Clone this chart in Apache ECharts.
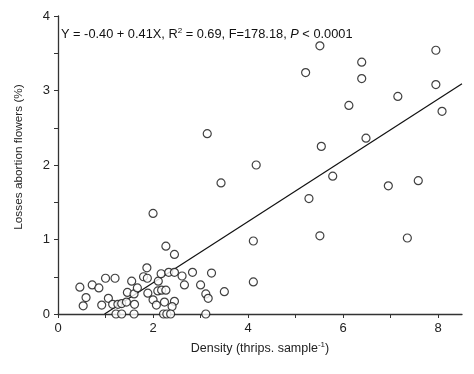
<!DOCTYPE html>
<html>
<head>
<meta charset="utf-8">
<script src="https://cdn.jsdelivr.net/npm/echarts@6/dist/echarts.min.js"></script>
<style>html,body{margin:0;padding:0;background:#fff}#c{width:474px;height:374px}</style>
</head>
<body>
<div id="c"></div>
<script>
const xTickLabels = [0, 2, 4, 6, 8];
const yTickLabels = [0, 1, 2, 3, 4];
const densityX = [
  0.46,0.59,0.53,0.72,0.86,1.00,1.20,0.92,1.06,1.15,1.26,1.34,1.22,1.34,1.44,1.46,1.55,1.60,1.61,1.60,
  1.67,1.80,1.88,1.87,1.89,2.00,2.00,2.07,2.11,2.10,2.17,2.18,2.27,2.27,2.45,2.33,2.45,2.24,2.45,2.40,
  2.22,2.29,2.37,2.61,2.66,2.83,3.00,3.11,3.16,3.11,3.23,3.50,
  3.14,3.43,4.11,4.11,4.17,5.21,5.51,5.54,5.78,5.28,5.51,6.12,6.39,6.39,6.48,6.95,7.15,7.35,7.58,7.95,7.95,8.08
];
const lossesY = [
  0.36,0.22,0.11,0.39,0.35,0.48,0.48,0.12,0.21,0.13,0.13,0.14,0.00,0.00,0.16,0.29,0.44,0.27,0.13,0.00,
  0.35,0.50,0.48,0.62,0.28,1.35,0.19,0.12,0.44,0.31,0.54,0.32,0.32,0.91,0.80,0.56,0.56,0.16,0.17,0.10,
  0.00,0.00,0.00,0.51,0.39,0.56,0.39,0.27,0.21,0.00,0.55,0.30,
  2.42,1.76,0.98,0.43,2.00,3.24,3.60,2.25,1.85,1.55,1.05,2.80,3.38,3.16,2.36,1.72,2.92,1.02,1.79,3.54,3.08,2.72
];
const fitLineX = [0.98, 8.5];
const fitLineY = [0.0, 3.09];
const yTitle = 'Losses abortion flowers (%)';

const pts = densityX.map((x, i) => [x, lossesY[i]]);
const fit = fitLineX.map((x, i) => [x, fitLineY[i]]);

const chart = echarts.init(document.getElementById('c'));
const axisCol = '#333';
const font = 'Liberation Sans, Arial, sans-serif';
chart.setOption({
  animation: false,
  backgroundColor: '#fff',
  grid: { left: 58, right: 12, top: 16, bottom: 60 },
  xAxis: {
    type: 'value', min: 0, max: 8.5, interval: 2,
    name: 'Density (thrips. sample{sup|-1})',
    nameLocation: 'middle', nameGap: 27,
    nameTextStyle: { fontFamily: font, fontSize: 12.5, color: '#222',
      rich: { sup: { fontSize: 8, verticalAlign: 'top', padding: [0,0,7,0], fontFamily: font, color: '#222' } } },
    axisLine: { lineStyle: { color: axisCol, width: 1.3 } },
    axisTick: { show: true, length: 4, customValues: [0,1,2,3,4,5,6,7,8], lineStyle: { color: axisCol } },
    axisLabel: { customValues: xTickLabels, fontFamily: font, fontSize: 13, color: '#222', margin: 8 },
    splitLine: { show: false }
  },
  yAxis: {
    type: 'value', min: 0, max: 4, interval: 1,
    axisLine: { show: true, lineStyle: { color: axisCol, width: 1.3 } },
    axisTick: { show: true, length: 4, customValues: [0,0.5,1,1.5,2,2.5,3,3.5,4], lineStyle: { color: axisCol } },
    axisLabel: { customValues: yTickLabels, fontFamily: font, fontSize: 13, color: '#222', margin: 8 },
    splitLine: { show: false }
  },
  series: [
    {
      type: 'line', data: fit, showSymbol: false, symbol: 'none',
      lineStyle: { color: '#111', width: 1.2 }, z: 1
    },
    {
      type: 'scatter', data: pts, symbol: 'circle', symbolSize: 8,
      itemStyle: { color: '#fff', borderColor: '#111', borderWidth: 1.2 }, z: 2
    }
  ],
  graphic: [{
    type: 'text', left: 61, top: 27, z: 10,
    style: {
      text: 'Y = -0.40 + 0.41X, R{sup|2} = 0.69, F=178.18, {it|P} < 0.0001',
      font: '12.8px ' + font, fill: '#111',
      rich: {
        sup: { fontSize: 8, verticalAlign: 'top', padding: [0,0,7,0], fontFamily: font, fill: '#111' },
        it: { fontStyle: 'italic', fontSize: 12.8, fontFamily: font, fill: '#111' }
      }
    }
  }, {
    type: 'text', x: 19, y: 157, rotation: Math.PI / 2, z: 10,
    style: {
      text: yTitle, font: '11.8px ' + font, fill: '#222',
      align: 'center', verticalAlign: 'middle'
    }
  }]
});
</script>
</body>
</html>
